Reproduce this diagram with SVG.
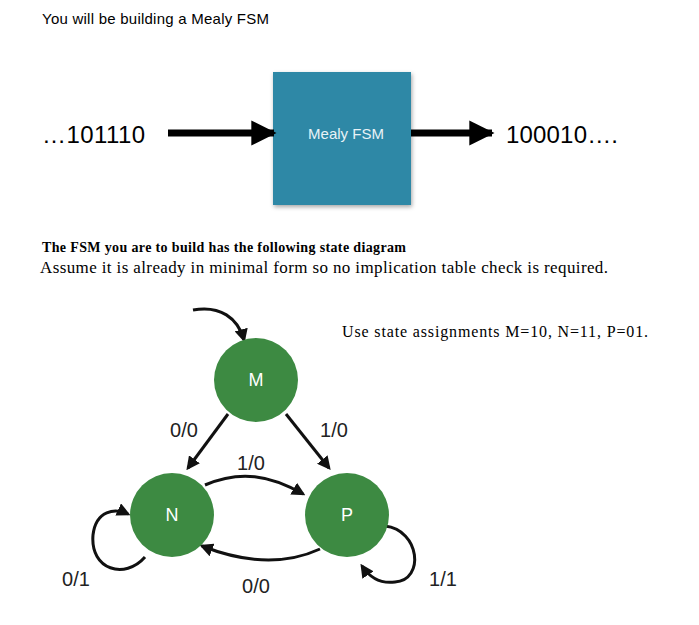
<svg xmlns="http://www.w3.org/2000/svg" width="699" height="625" viewBox="0 0 699 625">
<style>
.s{font-family:"Liberation Sans",Arial,sans-serif}
.t{font-family:"Liberation Serif","Times New Roman",serif}
.st{fill:#3d8a42}
.sl{font-family:"Liberation Sans",Arial,sans-serif;font-size:18px;fill:#fff;text-anchor:middle}
.lb{font-family:"Liberation Sans",Arial,sans-serif;font-size:20px;fill:#222;text-anchor:middle}
.c{fill:none;stroke:#111;stroke-width:3}
</style>
<defs>
<marker id="a" viewBox="0 0 10 10" refX="8" refY="5" markerWidth="4.5" markerHeight="4.5" orient="auto"><path d="M0,0L10,5L0,10z" fill="#111"/></marker>
<marker id="b" viewBox="0 0 10 10" refX="9" refY="5" markerWidth="3.6" markerHeight="3.6" orient="auto"><path d="M0,0L10,5L0,10z" fill="#000"/></marker>
<filter id="sh"><feDropShadow dx="1" dy="2" stdDeviation="2" flood-opacity="0.35"/></filter>
</defs>
<rect width="699" height="625" fill="#fff"/>
<text class="s" x="42" y="24" font-size="15" textLength="227">You will be building a Mealy FSM</text>
<g id="input"><text class="s" x="42" y="143" font-size="24" textLength="103">…101110</text></g>
<g id="fsm"><rect x="273" y="72" width="138" height="133" fill="#2e88a6" filter="url(#sh)"/>
<text class="s" x="346" y="139" font-size="15" fill="#e8f2f6" text-anchor="middle">Mealy FSM</text></g>
<g id="output"><text class="s" x="506" y="143" font-size="24" textLength="112">100010….</text></g>
<text class="t" x="42" y="252" font-size="14" font-weight="bold" textLength="364">The FSM you are to build has the following state diagram</text>
<text class="t" x="40" y="273" font-size="17" textLength="568">Assume it is already in minimal form so no implication table check is required.</text>
<text class="t" x="342" y="337" font-size="16" textLength="306">Use state assignments M=10, N=11, P=01.</text>
<g id="connectors">
<path d="M168,133H274" stroke="#000" stroke-width="7" marker-end="url(#b)"/>
<path d="M411,133H492" stroke="#000" stroke-width="7" marker-end="url(#b)"/>
<path class="c" d="M193,310C220,305 238,318 244,340" marker-end="url(#a)"/>
<path class="c" d="M228,414L188,468" marker-end="url(#a)"/>
<path class="c" d="M286,414L329,468" marker-end="url(#a)"/>
<path class="c" d="M205,485C240,470 270,475 303,494" marker-end="url(#a)"/>
<path class="c" d="M320,549C285,565 245,563 202,546" marker-end="url(#a)"/>
<path class="c" d="M145,557C125,580 90,570 93,535C96,510 115,508 128,514" marker-end="url(#a)"/>
<path class="c" d="M385,526C420,530 425,580 395,582C380,584 370,578 362,566" marker-end="url(#a)"/>
</g>
<g id="M"><circle class="st" cx="256" cy="380" r="42"/><text class="sl" x="256" y="386">M</text></g>
<g id="N"><circle class="st" cx="172" cy="515" r="42"/><text class="sl" x="172" y="521">N</text></g>
<g id="P"><circle class="st" cx="347" cy="515" r="42"/><text class="sl" x="347" y="521">P</text></g>
<text class="lb" x="184" y="437">0/0</text>
<text class="lb" x="334" y="437">1/0</text>
<text class="lb" x="251" y="470">1/0</text>
<text class="lb" x="76" y="586">0/1</text>
<text class="lb" x="256" y="593">0/0</text>
<text class="lb" x="443" y="586">1/1</text>
</svg>
